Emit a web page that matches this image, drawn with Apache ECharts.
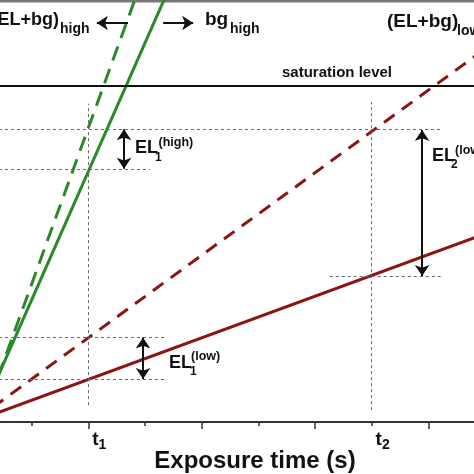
<!DOCTYPE html>
<html>
<head>
<meta charset="utf-8">
<script src="https://cdn.jsdelivr.net/npm/echarts@6/dist/echarts.min.js"></script>
<style>
html, body { margin: 0; padding: 0; background: #fff; }
#main { width: 474px; height: 474px; }
</style>
</head>
<body>
<div id="main"></div>
<script>
// time axis in arbitrary units, t1 and t2 sit on ticks 2 and 7
const tickLabels = { 2: 't1', 7: 't2' }
const t1 = 2
const t2 = 7

// straight signal lines, [time, signal] end points
const highTotal = [[0.12, 0.01], [2.9, 10.3]]   // (EL+bg)high  dashed green
const highBg = [[0.05, 0.0], [3.4, 10.2]]       // bg high      solid green
const lowTotal = [[0, 0.04], [9, 8.84]]         // (EL+bg)low   dashed red
const lowBg = [[0, 0.02], [9, 4.46]]            // bg low       solid red
const saturation = 7.96

// signal levels read at t1 and t2
const atT1 = { highTotal: 6.94, highBg: 6.0, lowTotal: 2.0, lowBg: 1.02 }
const atT2 = { lowTotal: 6.92, lowBg: 3.46 }

// dotted guide lines
const guides = [
  [[0, atT1.highTotal], [8.24, atT1.highTotal]],
  [[0, atT1.highBg], [3.09, atT1.highBg]],
  [[0, atT1.lowTotal], [3.39, atT1.lowTotal]],
  [[0, atT1.lowBg], [3.39, atT1.lowBg]],
  [[6.26, atT2.lowBg], [8.24, atT2.lowBg]],
  [[t1, 0.40], [t1, 7.54]],
  [[t2, 0.28], [t2, 7.58]]
]
// EL arrows (both heads) and the two pointer arrows at the top
const elArrows = [
  [[2.63, atT1.highTotal], [2.63, atT1.highBg]],
  [[2.965, atT1.lowTotal], [2.965, atT1.lowBg]],
  [[7.89, atT2.lowTotal], [7.89, atT2.lowBg]]
]
const pointerArrows = [
  [[2.70, 9.455], [2.15, 9.455]],
  [[3.32, 9.455], [3.85, 9.455]]
]

const green = '#2a8a2a'
const red = '#8b1414'
const font = '"Liberation Sans", Arial, sans-serif'

const chart = echarts.init(document.getElementById('main'))

const pairs = list => list.map(p => [{ coord: p[0] }, { coord: p[1] }])

function txt(x, y, text, size, align) {
  return {
    type: 'text', x: x, y: y, silent: true,
    style: {
      text: text,
      font: 'bold ' + size + 'px ' + font,
      fill: '#111',
      textAlign: align || 'left', align: align || 'left',
      textVerticalAlign: 'middle', verticalAlign: 'middle'
    }
  }
}

chart.setOption({
  animation: false,
  grid: { left: -25, right: -11, top: 0, bottom: 52, outerBoundsMode: 'none' },
  xAxis: [{
    type: 'value', min: 0, max: 9, interval: 1,
    axisLine: { lineStyle: { color: '#333', width: 2 } },
    axisTick: { length: 4, lineStyle: { color: '#333', width: 1.5 } },
    splitLine: { show: false },
    axisLabel: {
      margin: 6,
      padding: [0, 0, 0, 22],
      formatter: v => {
        const s = tickLabels[v]
        return s ? '{t|' + s[0] + '}{s|' + s.slice(1) + '}' : ''
      },
      rich: {
        t: { fontSize: 19, fontWeight: 'bold', fontFamily: font, color: '#111' },
        s: { fontSize: 14, fontWeight: 'bold', fontFamily: font, color: '#111', padding: [10, 0, 0, 0] }
      }
    },
    name: 'Exposure time (s)',
    nameLocation: 'middle',
    nameGap: 27,
    nameMoveOverlap: false,
    nameTextStyle: { fontSize: 24, fontWeight: 'bold', fontFamily: font, color: '#111', padding: [0, 0, 0, 50] }
  }, {
    type: 'value', min: 0, max: 9, interval: 2, position: 'bottom',
    axisLine: { show: false },
    axisTick: { length: 7, lineStyle: { color: '#333', width: 1.5 } },
    axisLabel: { show: false },
    splitLine: { show: false }
  }],
  yAxis: { type: 'value', min: 0, max: 10, show: false, splitLine: { show: false } },
  series: [
    { type: 'line', data: highTotal, showSymbol: false, lineStyle: { color: green, width: 3, type: [15, 9] } },
    { type: 'line', data: highBg, showSymbol: false, lineStyle: { color: green, width: 3 } },
    { type: 'line', data: lowTotal, showSymbol: false, lineStyle: { color: red, width: 3, type: [13, 9] } },
    { type: 'line', data: lowBg, showSymbol: false, lineStyle: { color: red, width: 3 } },
    { type: 'line', data: [[0, saturation], [9, saturation]], showSymbol: false, lineStyle: { color: '#111', width: 2 } },
    {
      type: 'line', data: [],
      markLine: {
        silent: true, symbol: 'none', label: { show: false },
        lineStyle: { color: '#666', width: 1, type: [3, 3] },
        data: pairs(guides)
      }
    },
    {
      type: 'line', data: [],
      markLine: {
        silent: true, symbol: ['arrow', 'arrow'], symbolSize: 11, label: { show: false },
        lineStyle: { color: '#111', width: 2, type: 'solid' },
        data: pairs(elArrows)
      }
    },
    {
      type: 'line', data: [],
      markLine: {
        silent: true, symbol: ['none', 'arrow'], symbolSize: 11, label: { show: false },
        lineStyle: { color: '#111', width: 2, type: 'solid' },
        data: pairs(pointerArrows)
      }
    }
  ],
  graphic: [
    { type: 'rect', silent: true, shape: { x: 0, y: 0, width: 474, height: 2.5 }, style: { fill: '#777' } },
    txt(59, 20, '(EL+bg)', 18, 'right'), txt(60, 29, 'high', 14),
    txt(205, 20, 'bg', 19), txt(230, 29, 'high', 14),
    txt(387, 22, '(EL+bg)', 19), txt(457, 31, 'low', 14),
    txt(282, 73, 'saturation level', 15),
    txt(135, 148.5, 'EL', 18), txt(155, 157.5, '1', 12), txt(158.5, 143, '(high)', 12.5),
    txt(169, 363, 'EL', 18), txt(190, 372, '1', 12), txt(191, 357, '(low)', 12.5),
    txt(432, 156, 'EL', 18), txt(451, 165, '2', 12), txt(455, 150.5, '(low)', 12.5)
  ]
})
</script>
</body>
</html>
